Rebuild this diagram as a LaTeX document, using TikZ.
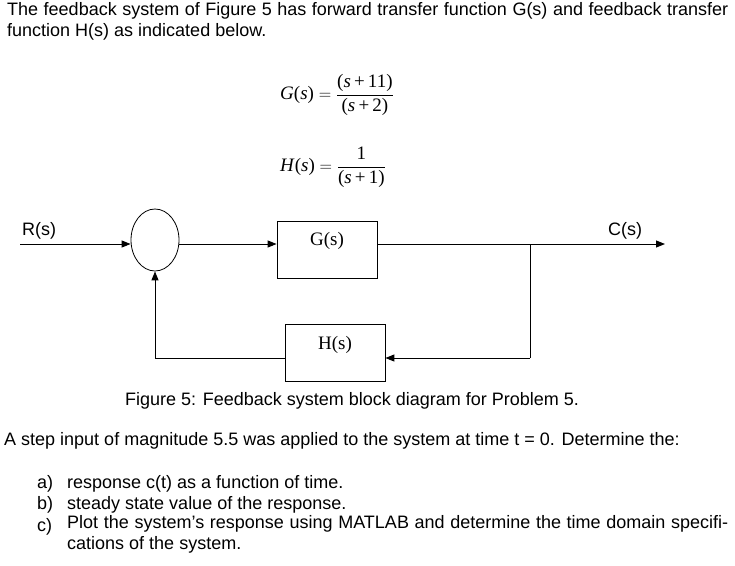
\documentclass[tikz,border=0pt]{standalone}
\usepackage{amsmath}
\usepackage{fontspec}
\setmainfont{Liberation Sans}
\newfontfamily\tms{Liberation Serif}
\usetikzlibrary{arrows.meta,shapes.geometric}
\newcommand{\ti}[1]{\text{\tms #1}}
\begin{document}
\begin{tikzpicture}[x=1pt,y=-1pt,font=\fontsize{18}{21}\selectfont,
 blk/.style={draw,line width=0.8pt,minimum width=100pt,minimum height=57pt},
 ln/.style={line width=1pt},
 arr/.style={ln,-{Triangle[length=9pt,width=7pt]}},
 txt/.style={inner sep=0pt,anchor=west},
 eq/.style={txt,font=\tms\fontsize{19}{22}\selectfont}]
\useasboundingbox (0,0) rectangle (735,565);
\node[inner sep=0pt,anchor=north west,text width=721pt,align=justify] (p1) at (7,2) {The feedback system of Figure 5 has forward transfer function G(s) and feedback transfer function H(s) as indicated below.};
\node[eq] (g) at (280,95) {$\ti{\textit{G}(\textit{s})} = \dfrac{\ti{(\textit{s}\,+\,11)}}{\ti{(\textit{s}\,+\,2)}}$};
\node[eq] (h) at (280,167) {$\ti{\textit{H}(\textit{s})} = \dfrac{\ti{1}}{\ti{(\textit{s}\,+\,1)}}$};
\node[draw,ellipse,line width=0.8pt,minimum width=48pt,minimum height=62pt,inner sep=0pt] (sum) at (155,240) {};
\node[blk] (G) at (327,250) {};
\node[font=\tms\fontsize{19}{22}\selectfont] (Gl) at (327,241) {G(s)};
\node[blk] (H) at (335,353) {};
\node[font=\tms\fontsize{19}{22}\selectfont] (Hl) at (335,345) {H(s)};
\coordinate (rin) at (20,244);
\coordinate (br) at (530,244);
\coordinate (out) at (665,244);
\coordinate (brd) at (530,358);
\coordinate (fl) at (155,358);
\draw[arr] (rin) -- (sum.west |- rin);
\draw[arr] (sum.east |- rin) -- (G.west |- rin);
\draw[ln] (G.east |- br) -- (br);
\draw[arr] (br) -- (out);
\draw[ln] (br) -- (brd);
\draw[arr] (brd) -- (H.east |- brd);
\draw[ln] (H.west |- fl) -- (fl);
\draw[arr] (fl) -- (sum.south);
\node[txt] (R) at (22,231) {R(s)};
\node[txt] (C) at (608,231) {C(s)};
\node (cap) at (352,401) {Figure 5: Feedback system block diagram for Problem 5.};
\node[txt] (st) at (4,441) {A step input of magnitude 5.5 was applied to the system at time t = 0. Determine the:};
\node[txt] (a) at (37,484) {a)};
\node[txt] (at) at (67,484) {response c(t) as a function of time.};
\node[txt] (b) at (37,505) {b)};
\node[txt] (bt) at (67,505) {steady state value of the response.};
\node[txt] (c) at (37,527) {c)};
\node[inner sep=0pt,anchor=north west,text width=661pt,align=justify] (ct) at (67,515) {Plot the system’s response using MATLAB and determine the time domain specifications of the system.};
\end{tikzpicture}
\end{document}
